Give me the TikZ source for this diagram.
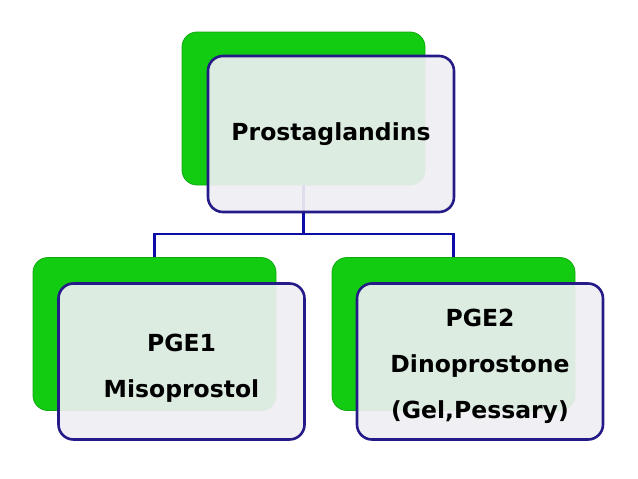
\documentclass[tikz,border=0pt]{standalone}
\usepackage{fontspec}
\setmainfont{DejaVu Sans}
\usepackage{tikz}
\usetikzlibrary{positioning,calc}
\definecolor{leaf}{HTML}{11CC11}
\definecolor{leafdk}{HTML}{10A810}
\definecolor{card}{HTML}{EFEFF3}
\definecolor{rim}{HTML}{241A88}
\definecolor{bus}{HTML}{0C0CA6}

\begin{document}
\begin{tikzpicture}[x=1pt, y=-1pt, every node/.style={font=\fontsize{23.5}{46}\selectfont\bfseries}]
  \tikzset{bk/.style={draw=leafdk, fill=leaf, line width=0.8pt, rounded corners=15pt,
                      minimum width=243pt, minimum height=153pt, inner sep=0pt},
           fr/.style={draw=rim, fill=card, fill opacity=0.92, text opacity=1, line width=2.6pt,
                      rounded corners=15pt, minimum width=246pt, minimum height=156pt,
                      align=center, inner sep=0pt}}
  \useasboundingbox (0,0) rectangle (638,479);
  \node[bk] (prostbk) at (303.5,108.5) {};
  \node[bk] (pgeonebk) at (154.5,334) {};
  \node[bk] (pgetwobk) at (453.5,334) {};
  \coordinate (split) at (303.5,234);
  \draw[bus, line width=2.6pt] (prostbk.south) -- (split);
  \draw[bus, line width=2.6pt] (pgeonebk.north) |- (split) -| (pgetwobk.north);
  \node[fr] (prost) at (331,134) {Prostaglandins};
  \node[fr] (pgeone) at (181.5,361.5) {\rule{0pt}{30pt}PGE1\\Misoprostol};
  \node[fr] (pgetwo) at (480,361.5) {\rule{0pt}{28pt}PGE2\\Dinoprostone\\(Gel,Pessary)};
\end{tikzpicture}
\end{document}
